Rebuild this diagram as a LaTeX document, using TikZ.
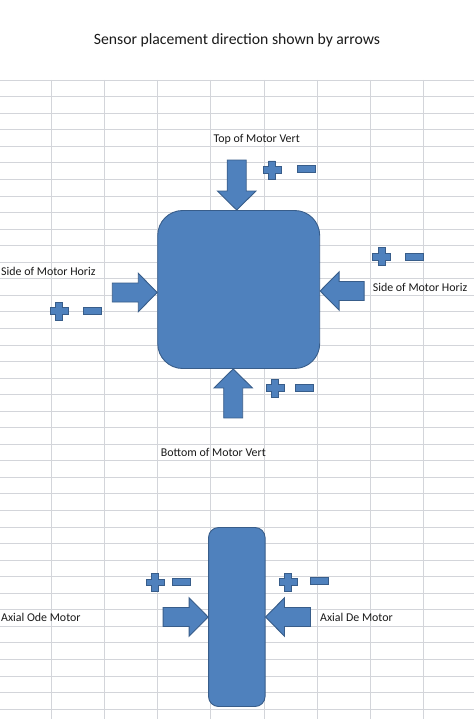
\documentclass[tikz,border=0pt]{standalone}
\usepackage{fontspec}
\setmainfont{Carlito}
\usetikzlibrary{calc}
\definecolor{motorBlue}{HTML}{4F81BD}
\definecolor{motorEdge}{HTML}{385D8A}
\definecolor{gridGray}{HTML}{D3D5DA}
\definecolor{labelInk}{HTML}{1A1A1A}

\begin{document}
\begin{tikzpicture}[
  x=1pt, y=-1pt,
  font=\fontsize{11.9}{13}\selectfont,
  shapefill/.style={fill=motorBlue, draw=motorEdge, line width=0.9pt, line join=miter},
  motorbox/.style={shapefill, rounded corners=25pt, inner sep=0pt},
  platebox/.style={shapefill, rounded corners=10pt, inner sep=0pt},
  sidelabel/.style={text=labelInk, inner sep=0pt, anchor=west},
  pics/blockarrow/.style={code={
    \path[shapefill] (0,0) -- (-19,19.2) -- (-19,9.5) -- (-#1,9.5) -- (-#1,-9.5)
      -- (-19,-9.5) -- (-19,-19.2) -- cycle;}},
  pics/plussign/.style={code={
    \path[shapefill, line width=0.7pt] (-3.3,-9) -- (3.3,-9) -- (3.3,-3.3) -- (9,-3.3) -- (9,3.3) -- (3.3,3.3)
      -- (3.3,9) -- (-3.3,9) -- (-3.3,3.3) -- (-9,3.3) -- (-9,-3.3) -- (-3.3,-3.3) -- cycle;}},
  pics/minussign/.style={code={
    \path[shapefill, line width=0.7pt] (-9,-3.5) rectangle (9,3.5);}}
]
  \useasboundingbox (0,0) rectangle (474,719);
  \fill[white] (0,0) rectangle (474,719);

  % spreadsheet grid
  \foreach \k in {0,...,38}
    \draw[gridGray, line width=0.6pt] (0,80+16.55*\k) -- (474,80+16.55*\k);
  \foreach \c in {0,...,7}
    \draw[gridGray, line width=0.6pt] (51+53.2*\c,80) -- (51+53.2*\c,719);

  \node[text=labelInk, font=\fontsize{15.7}{18}\selectfont] (title) at (237,40) {Sensor placement direction shown by arrows};

  % motor seen from the front
  \node[motorbox, minimum width=162pt, minimum height=158pt] (motor) at (238.7,289.5) {};

  \pic[rotate=-90] at ([xshift=-2pt]motor.north) {blockarrow=50};
  \pic[rotate=90] at ([xshift=-5.5pt]motor.south) {blockarrow=49};
  \pic at ([yshift=-3pt]motor.west) {blockarrow=45};
  \pic[rotate=180] at ([yshift=-1.5pt]motor.east) {blockarrow=44};

  \pic at (272,170) {plussign};   \pic at (306,169) {minussign};
  \pic at (59,311) {plussign};    \pic at (92.5,311) {minussign};
  \pic at (381.7,256.7) {plussign}; \pic at (414,257) {minussign};
  \pic at (275,388) {plussign};   \pic at (304,388) {minussign};

  \node[text=labelInk, inner sep=0pt] (toplbl) at (256.7,139) {Top of Motor Vert};
  \node[sidelabel] (leftlbl) at (1,271.7) {Side of Motor Horiz};
  \node[sidelabel] (rightlbl) at (372.7,287) {Side of Motor Horiz};
  \node[sidelabel] (botlbl) at (160.7,452) {Bottom of Motor Vert};

  % motor seen from the side
  \node[platebox, minimum width=56.5pt, minimum height=179pt] (plate) at (236.8,617) {};

  \pic at (plate.west) {blockarrow=45};
  \pic[rotate=180] at (plate.east) {blockarrow=45};

  \pic at (155,582.3) {plussign}; \pic at (181.7,582) {minussign};
  \pic at (288,582) {plussign};   \pic at (319,581) {minussign};

  \node[sidelabel] (odelbl) at (1,617.7) {Axial Ode Motor};
  \node[sidelabel] (delbl) at (320,617.7) {Axial De Motor};
\end{tikzpicture}
\end{document}
